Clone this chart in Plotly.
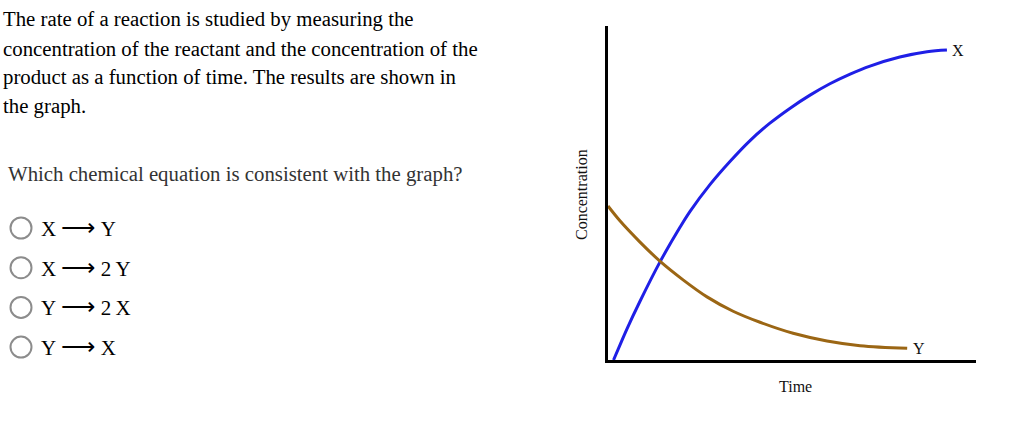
import plotly.graph_objects as go

# (time and concentration in arbitrary units, 0-10)
time_x = [0.15, 0.33, 0.51, 0.87, 1.41, 1.96, 2.23, 2.77, 3.32, 3.86, 4.40, 4.95,
          5.49, 6.03, 6.58, 7.12, 7.93, 8.67, 9.21]
conc_x = [0.00, 0.46, 0.92, 1.76, 2.93, 3.98, 4.45, 5.25, 5.95, 6.57, 7.09, 7.54,
          7.93, 8.27, 8.56, 8.80, 9.07, 9.23, 9.28]

time_y = [0.00, 0.33, 0.87, 1.41, 2.04, 2.69, 3.40, 4.13, 5.03, 5.95, 6.85, 8.13]
conc_y = [4.61, 4.16, 3.53, 2.96, 2.40, 1.89, 1.46, 1.13, 0.80, 0.57, 0.43, 0.35]

intro_lines = [
    "The rate of a reaction is studied by measuring the",
    "concentration of the reactant and the concentration of the",
    "product as a function of time. The results are shown in",
    "the graph.",
]
question = "Which chemical equation is consistent with the graph?"
choices = [("X", "Y"), ("X", "2\u2009Y"), ("Y", "2\u2009X"), ("Y", "X")]

W, H = 1024, 427
SERIF = "Liberation Serif"
BLUE = "#1f1fe6"
BROWN = "#9b6614"
ARROW = "\u00a0<span style='font-size:24px'>\u27f6</span>\u00a0"


def px(x):
    return x / W


def py(y):
    return 1 - y / H


fig = go.Figure()

fig.add_trace(go.Scatter(x=time_x, y=conc_x, mode="lines",
                         line=dict(color=BLUE, width=3, shape="spline", smoothing=1),
                         hoverinfo="skip"))
fig.add_trace(go.Scatter(x=time_y, y=conc_y, mode="lines",
                         line=dict(color=BROWN, width=3, shape="spline", smoothing=1),
                         hoverinfo="skip"))

ann = []
# curve end labels
ann.append(dict(x=time_x[-1], y=conc_x[-1], xref="x", yref="y", text="X",
                showarrow=False, xanchor="left", yanchor="middle", xshift=3,
                font=dict(family=SERIF, size=16, color="#111")))
ann.append(dict(x=time_y[-1], y=conc_y[-1], xref="x", yref="y", text="Y",
                showarrow=False, xanchor="left", yanchor="middle", xshift=4,
                font=dict(family=SERIF, size=16, color="#111")))

# axis titles as free text so they sit where the reference has them
ann.append(dict(x=px(795), y=py(386), xref="paper", yref="paper", text="Time",
                showarrow=False, xanchor="center", yanchor="middle",
                font=dict(family=SERIF, size=16, color="#111")))
ann.append(dict(x=px(581), y=py(195), xref="paper", yref="paper", text="Concentration",
                showarrow=False, textangle=-90, xanchor="center", yanchor="middle",
                font=dict(family=SERIF, size=16, color="#111")))

# question text on the left
for i, line in enumerate(intro_lines):
    ann.append(dict(x=px(1), y=py(19 + 29 * i), xref="paper", yref="paper", text=line,
                    showarrow=False, xanchor="left", yanchor="middle",
                    font=dict(family=SERIF, size=20.8, color="#000")))
ann.append(dict(x=px(6), y=py(174), xref="paper", yref="paper", text=question,
                showarrow=False, xanchor="left", yanchor="middle",
                font=dict(family=SERIF, size=20.8, color="#333")))

shapes = []
for i, (lhs, rhs) in enumerate(choices):
    yc = 228 + 39.7 * i
    ann.append(dict(x=px(39), y=py(yc), xref="paper", yref="paper",
                    text=lhs + ARROW + rhs,
                    showarrow=False, xanchor="left", yanchor="middle",
                    font=dict(family=SERIF, size=21, color="#000")))
    shapes.append(dict(type="circle", xref="paper", yref="paper",
                       xsizemode="pixel", ysizemode="pixel",
                       xanchor=px(21), yanchor=py(yc),
                       x0=-10.5, x1=10.5, y0=-10.5, y1=10.5,
                       line=dict(color="#8c8c8c", width=2)))

axis_style = dict(range=[0, 10], showline=True, linecolor="black", linewidth=3,
                  showgrid=False, zeroline=False, showticklabels=False, ticks="")

fig.update_layout(
    width=W, height=H,
    margin=dict(l=0, r=0, t=0, b=0),
    paper_bgcolor="white", plot_bgcolor="white",
    showlegend=False,
    xaxis=dict(domain=[px(608), px(976)], **axis_style),
    yaxis=dict(domain=[py(360), py(26)], **axis_style),
    annotations=ann,
    shapes=shapes,
)

# drop the browser's default 8px body margin so the figure sits at the page corner
fig.write_html("out.html", config={"displayModeBar": False},
               post_script="document.body.style.margin='0';")
